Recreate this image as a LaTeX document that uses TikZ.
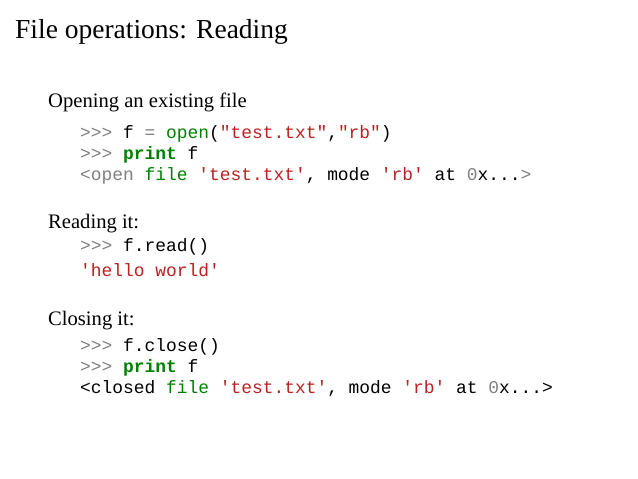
\documentclass[tikz,border=0pt]{standalone}
\usepackage{fontspec}
\setmainfont{Liberation Serif}
\setmonofont{Liberation Mono}
\definecolor{pgrey}{RGB}{128,128,128}
\definecolor{pgreen}{RGB}{0,128,0}
\definecolor{pred}{RGB}{186,33,33}
\newcommand{\cgr}[1]{\textcolor{pgrey}{#1}}
\newcommand{\cgn}[1]{\textcolor{pgreen}{#1}}
\newcommand{\crd}[1]{\textcolor{pred}{#1}}
\newcommand{\ckw}[1]{\textcolor{pgreen}{\bfseries #1}}
\tikzset{
  title/.style={anchor=base west,inner sep=0,font=\fontsize{27.5}{31}\selectfont},
  body/.style={anchor=base west,inner sep=0,font=\fontsize{20.6}{24}\selectfont},
  code/.style={anchor=base west,inner sep=0,font=\ttfamily\fontsize{17.9}{20}\selectfont}
}
\begin{document}
\begin{tikzpicture}[x=1pt,y=-1pt]
\useasboundingbox (0,0) rectangle (638,479);
\node[title] (t) at (15,38) {File operations: Reading};
\node[body] (b1) at (48,107) {Opening an existing file};
\node[code] (c1) at (80,138) {\cgr{>>>} f \cgr{=} \cgn{open}(\crd{"test.txt"},\crd{"rb"})};
\node[code] (c2) at (80,159) {\cgr{>>>} \ckw{print} f};
\node[code] (c3) at (80,180) {\cgr{<open} \cgn{file} \crd{'test.txt'}, mode \crd{'rb'} at \cgr{0}x...\cgr{>}};
\node[body] (b2) at (48,228) {Reading it:};
\node[code] (c4) at (80,251) {\cgr{>>>} f.read()};
\node[code] (c5) at (80,276) {\crd{'hello world'}};
\node[body] (b3) at (48,325) {Closing it:};
\node[code] (c6) at (80,351) {\cgr{>>>} f.close()};
\node[code] (c7) at (80,372) {\cgr{>>>} \ckw{print} f};
\node[code] (c8) at (80,393) {<closed \cgn{file} \crd{'test.txt'}, mode \crd{'rb'} at \cgr{0}x...>};
\end{tikzpicture}
\end{document}
